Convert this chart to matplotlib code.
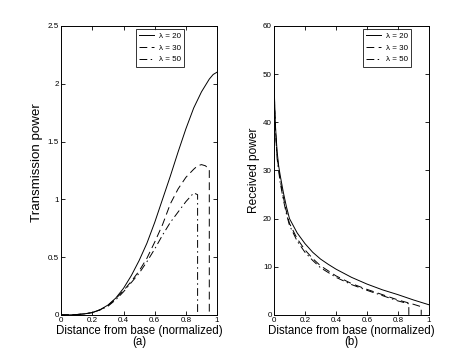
import matplotlib
matplotlib.use("Agg")
import matplotlib.pyplot as plt
from matplotlib.ticker import FuncFormatter

plt.rcParams["font.family"] = ["Liberation Sans", "DejaVu Sans"]

# (a) transmission power vs normalized distance
d20 = [0.0, 0.05, 0.1, 0.15, 0.2, 0.25, 0.3, 0.35, 0.4, 0.45, 0.5, 0.55, 0.6,
       0.65, 0.7, 0.75, 0.8, 0.85, 0.9, 0.95, 0.975, 1.0]
tx20 = [0.0, 0.0, 0.003, 0.009, 0.02, 0.045, 0.085, 0.145, 0.23, 0.34, 0.47, 0.62,
        0.80, 1.00, 1.20, 1.41, 1.61, 1.79, 1.93, 2.04, 2.08, 2.10]
d30 = [0.0, 0.05, 0.1, 0.15, 0.2, 0.25, 0.3, 0.35, 0.4, 0.45, 0.5, 0.55, 0.6,
       0.65, 0.7, 0.75, 0.8, 0.85, 0.875, 0.9, 0.925, 0.95, 0.95]
tx30 = [0.0, 0.0, 0.003, 0.009, 0.02, 0.044, 0.08, 0.14, 0.21, 0.29, 0.38, 0.49,
        0.63, 0.78, 0.96, 1.09, 1.19, 1.26, 1.29, 1.30, 1.29, 1.26, 0.0]
d50 = [0.0, 0.05, 0.1, 0.15, 0.2, 0.25, 0.3, 0.35, 0.4, 0.45, 0.5, 0.55, 0.6,
       0.65, 0.7, 0.75, 0.8, 0.85, 0.875, 0.875]
tx50 = [0.0, 0.0, 0.003, 0.009, 0.02, 0.043, 0.075, 0.13, 0.20, 0.28, 0.36, 0.46,
        0.57, 0.69, 0.80, 0.89, 0.98, 1.055, 1.04, 0.0]

# (b) received power vs normalized distance
e20 = [0.0, 0.005, 0.01, 0.02, 0.03, 0.04, 0.06, 0.08, 0.1, 0.15, 0.2, 0.25, 0.3,
       0.35, 0.4, 0.5, 0.6, 0.7, 0.8, 0.9, 1.0]
rx20 = [50.0, 43.0, 39.0, 34.0, 31.0, 29.0, 25.5, 22.5, 20.0, 17.0, 14.8, 13.0, 11.6,
        10.5, 9.5, 7.8, 6.4, 5.2, 4.2, 3.1, 2.1]
e30 = [0.0, 0.005, 0.01, 0.02, 0.04, 0.06, 0.08, 0.1, 0.15, 0.2, 0.25, 0.3, 0.4,
       0.5, 0.6, 0.7, 0.8, 0.9, 0.95, 0.95]
rx30 = [50.0, 42.5, 38.5, 33.0, 28.0, 24.5, 21.5, 19.0, 15.8, 13.5, 11.7, 10.2, 8.1,
        6.5, 5.3, 4.2, 3.1, 2.2, 1.7, 0.0]
e50 = [0.0, 0.005, 0.01, 0.02, 0.04, 0.06, 0.08, 0.1, 0.15, 0.2, 0.25, 0.3, 0.4,
       0.5, 0.6, 0.7, 0.8, 0.87, 0.87]
rx50 = [50.0, 42.0, 38.0, 32.5, 27.5, 24.0, 21.0, 18.6, 15.3, 13.0, 11.3, 9.8, 7.8,
        6.3, 5.1, 4.0, 2.9, 2.3, 0.0]

LABELS = ["λ = 20", "λ = 30", "λ = 50"]
STYLES = ["-", (0, (8, 4.5)), (0, (8, 3.5, 1.5, 3.5))]

fig = plt.figure(figsize=(4.74, 3.55), dpi=100)
ax_a = fig.add_axes([0.129, 0.113, 0.329, 0.814])
ax_b = fig.add_axes([0.578, 0.113, 0.327, 0.814])

fmt = FuncFormatter(lambda v, _: f"{v:g}")


def style(ax, ylim, yticks, ylabel, ylab_size, ylab_xy, tag, leg_x):
    ax.set_xlim(0, 1)
    ax.set_ylim(*ylim)
    ax.set_xticks([0, 0.2, 0.4, 0.6, 0.8, 1])
    ax.set_yticks(yticks)
    ax.xaxis.set_major_formatter(fmt)
    ax.yaxis.set_major_formatter(fmt)
    ax.tick_params(direction="in", top=True, right=True, labelsize=5.8,
                   length=3, width=0.6, pad=1.5)
    for s in ax.spines.values():
        s.set_linewidth(0.7)
    ax.set_xlabel("Distance from base (normalized)\n" + tag,
                  fontsize=8.3, labelpad=0.5, linespacing=0.95)
    ax.set_ylabel(ylabel, fontsize=ylab_size)
    ax.yaxis.set_label_coords(*ylab_xy)
    leg = ax.legend(loc="upper right", bbox_to_anchor=(leg_x, 0.99), fontsize=5.8,
                    frameon=True, fancybox=False, edgecolor="black",
                    handlelength=1.8, handletextpad=0.6, borderpad=0.45,
                    labelspacing=0.5, borderaxespad=0)
    leg.get_frame().set_linewidth(0.7)


for xs, ys, ls, lab in zip([d20, d30, d50], [tx20, tx30, tx50], STYLES, LABELS):
    ax_a.plot(xs, ys, color="black", lw=0.7, ls=ls, label=lab)
style(ax_a, (0, 2.5), [0, 0.5, 1, 1.5, 2, 2.5], "Transmission power", 9.6,
      (-0.115, 0.526), "(a)", 0.79)

for xs, ys, ls, lab in zip([e20, e30, e50], [rx20, rx30, rx50], STYLES, LABELS):
    ax_b.plot(xs, ys, color="black", lw=0.7, ls=ls, label=lab)
style(ax_b, (0, 60), [0, 10, 20, 30, 40, 50, 60], "Received power", 8.6,
      (-0.09, 0.5), "(b)", 0.885)

fig.savefig("out.png", dpi=100)
